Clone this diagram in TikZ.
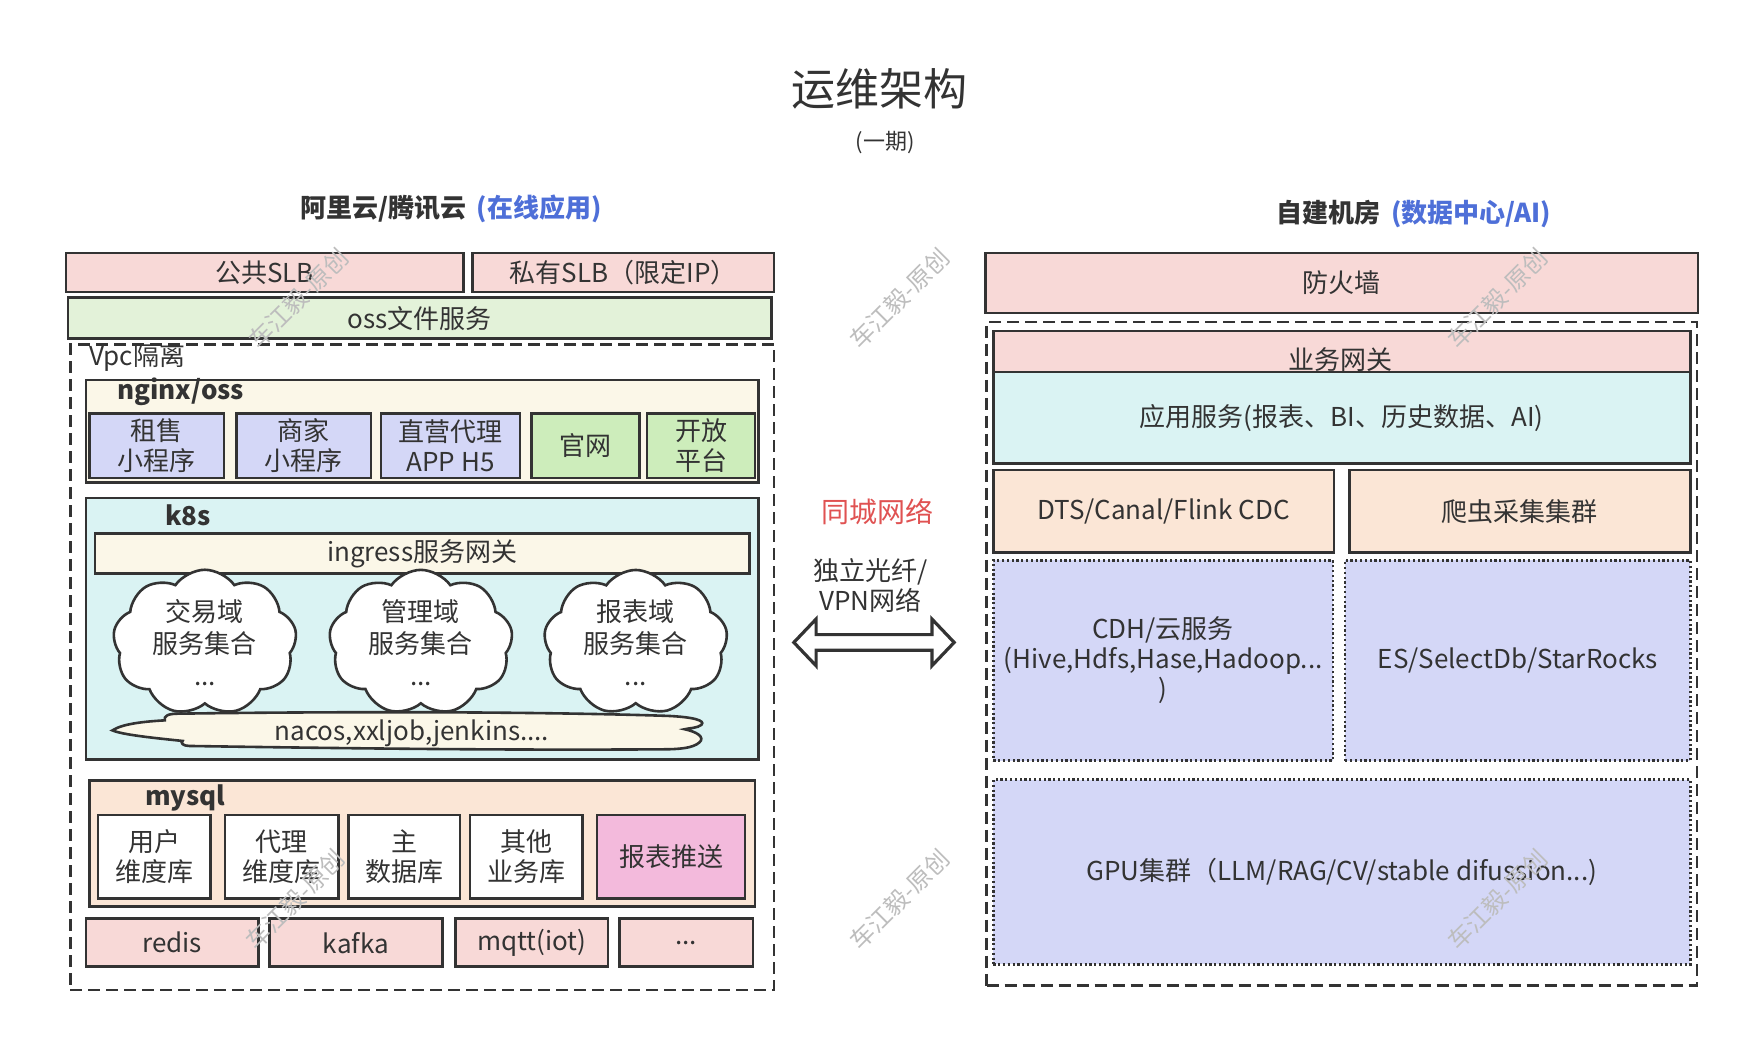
\documentclass[tikz,border=0pt]{standalone}
\usepackage{fontspec}
\setmainfont{Noto Sans CJK SC}
\usetikzlibrary{shapes.symbols}
\definecolor{ln}{HTML}{333333}
\definecolor{txt}{HTML}{333333}
\definecolor{cpink}{HTML}{F8D9D7}
\definecolor{cgreen}{HTML}{E3F2D9}
\definecolor{clav}{HTML}{D4D7F7}
\definecolor{cgreen2}{HTML}{CDEDBB}
\definecolor{ccream}{HTML}{FBF7E8}
\definecolor{ccyan}{HTML}{DAF3F3}
\definecolor{cpeach}{HTML}{FBE6D6}
\definecolor{cmag}{HTML}{F3BADC}
\definecolor{cblue}{HTML}{4E6FD8}
\definecolor{cred}{HTML}{E05252}
\definecolor{wm}{HTML}{BDBDBD}
\tikzset{
  box/.style={draw=ln, line width=1.3pt, align=center, inner sep=0pt, anchor=north west,
    font=\fontsize{13}{15}\selectfont, text=txt},
  sz/.style 2 args={minimum width=#1*0.5567pt, minimum height=#2*0.5567pt},
  dashbox/.style={draw=ln, line width=1.4pt, dash pattern=on 6pt off 3pt, anchor=north west, inner sep=0pt},
  dotbox/.style={box, dash pattern=on 1.1pt off 1.3pt},
  lbl/.style={font=\fontsize{13}{15}\selectfont\bfseries, text=txt, anchor=west, inner sep=0pt},
  cloudnode/.style={cloud, draw=ln, line width=1.3pt, fill=white, cloud puffs=9, cloud puff arc=110,
    aspect=1.4, inner sep=0pt, align=center, text=txt, font=\fontsize{13}{16}\selectfont},
  wmark/.style={text=wm, rotate=45, font=\fontsize{12}{14}\selectfont, inner sep=0pt},
  plain/.style={text=txt, inner sep=0pt, align=center},
}
\begin{document}
\begin{tikzpicture}[x=0.5567pt, y=-0.5567pt]
\useasboundingbox[fill=white] (0,0) rectangle (1569.1,934.1);

% titles
\node[plain, font=\fontsize{22}{26}\selectfont] (title) at (790,80) {运维架构};
\node[plain, font=\fontsize{11}{13}\selectfont] (sub) at (795,128) {(一期)};
\node[plain, font=\fontsize{13}{15}\selectfont\bfseries] (hl) at (405,188) {阿里云/腾讯云\hspace{0.4em}\textcolor{cblue}{(在线应用)}};
\node[plain, font=\fontsize{13}{15}\selectfont\bfseries] (hr) at (1270,192) {自建机房\hspace{0.4em}\textcolor{cblue}{(数据中心/AI)}};

% ---------- left ----------
\node[box, fill=cpink, sz={357}{35}] (slb1) at (58,226) {公共SLB};
\node[box, fill=cpink, sz={271}{35}] (slb2) at (423,226) {私有SLB（限定IP）};
\node[box, fill=cgreen, sz={632}{37}] (oss) at (60,266) {oss文件服务};
\node[dashbox, sz={632}{580}] (vpc) at (62,308) {};
\node[plain, anchor=west, font=\fontsize{13}{15}\selectfont] (vpcl) at (80,321) {Vpc隔离};

\node[box, fill=ccream, sz={604}{92}] (nginx) at (76,340) {};
\node[lbl] (nginxl) at (105,352) {nginx/oss};
\node[box, fill=clav, sz={121}{58}] (a1) at (79,370) {租售\\小程序};
\node[box, fill=clav, sz={121}{58}] (a2) at (211,370) {商家\\小程序};
\node[box, fill=clav, sz={125}{58}] (a3) at (341,370) {直营代理\\APP H5};
\node[box, fill=cgreen2, sz={97}{58}] (a4) at (476,370) {官网};
\node[box, fill=cgreen2, sz={97}{58}] (a5) at (580,370) {开放\\平台};

\node[box, fill=ccyan, sz={604}{235}] (k8s) at (76,446) {};
\node[lbl] (k8sl) at (148,463) {k8s};
\node[box, fill=ccream, sz={588}{36}] (ingress) at (84,478) {ingress服务网关};
\node[cloudnode, minimum width=165*0.5567pt, minimum height=118*0.5567pt] (c1) at (184,577) {交易域\\服务集合\\...};
\node[cloudnode, minimum width=165*0.5567pt, minimum height=118*0.5567pt] (c2) at (378,577) {管理域\\服务集合\\...};
\node[cloudnode, minimum width=165*0.5567pt, minimum height=118*0.5567pt] (c3) at (571,577) {报表域\\服务集合\\...};
% flat cloud
\draw[draw=ln, line width=1.3pt, fill=ccream]
  (101,656) .. controls (110,650) and (130,648) .. (148,647)
  .. controls (147,643) and (151,641) .. (160,641)
  .. controls (300,639) and (480,639) .. (600,643)
  .. controls (622,644) and (634,647) .. (630,651)
  .. controls (627,654) and (618,654) .. (615,655)
  .. controls (625,657) and (634,662) .. (628,667)
  .. controls (622,672) and (610,673) .. (595,673)
  .. controls (450,674) and (300,672) .. (170,670)
  .. controls (164,670) and (162,667) .. (164,665.5)
  .. controls (140,663) and (110,660) .. (101,656) -- cycle;
\node[plain, font=\fontsize{13}{15}\selectfont] (nacos) at (370,659) {nacos,xxljob,jenkins....};

\node[box, fill=cpeach, sz={598}{113}] (mysql) at (79,700) {};
\node[lbl] (mysqll) at (130,717) {mysql};
\node[box, fill=white, sz={101}{75}] (d1) at (87,731) {用户\\维度库};
\node[box, fill=white, sz={102}{75}] (d2) at (201,731) {代理\\维度库};
\node[box, fill=white, sz={100}{75}] (d3) at (312,731) {主\\数据库};
\node[box, fill=white, sz={101}{75}] (d4) at (421,731) {其他\\业务库};
\node[box, fill=cmag, sz={133}{75}] (d5) at (535,731) {报表推送};

\node[box, fill=cpink, sz={155}{43}] (redis) at (76,824) {redis};
\node[box, fill=cpink, sz={155}{43}] (kafka) at (241,824) {kafka};
\node[box, fill=cpink, sz={137}{43}] (mqtt) at (408,824) {mqtt(iot)};
\node[box, fill=cpink, sz={120}{43}] (etc) at (555,824) {...};

% ---------- middle ----------
\node[plain, text=cred, font=\fontsize{14}{16}\selectfont] (city) at (788,460) {同城网络};
\node[plain, font=\fontsize{13}{15}\selectfont] (fiber) at (782,526) {独立光纤/\\VPN网络};
\draw[draw=ln, line width=1.6pt, fill=white, line join=miter]
  (713,577) -- (733,556) -- (733,570) -- (837,570) -- (837,556) -- (857,577)
  -- (837,598) -- (837,584) -- (733,584) -- (733,598) -- cycle;

% ---------- right ----------
\node[box, fill=cpink, sz={640}{54}] (fw) at (884,226) {防火墙};
\node[dashbox, sz={638}{596}] (dc) at (885,288) {};
\node[box, fill=cpink, sz={626}{37}] (gw) at (891,296) {};
\node[plain, anchor=south, font=\fontsize{13}{15}\selectfont] (gwl) at (1204,334) {业务网关};
\node[box, fill=ccyan, sz={626}{82}] (app) at (891,333) {应用服务(报表、BI、历史数据、AI)};
\node[box, fill=cpeach, sz={306}{74}] (dts) at (891,421) {DTS/Canal/Flink CDC};
\node[box, fill=cpeach, sz={306}{74}] (crawl) at (1211,421) {爬虫采集集群};
\node[dotbox, fill=clav, sz={305}{180}] (cdh) at (891,502) {CDH/云服务\\(Hive,Hdfs,Hase,Hadoop...\\)};
\node[dotbox, fill=clav, sz={310}{180}] (es) at (1207,502) {ES/SelectDb/StarRocks};
\node[dotbox, fill=clav, sz={626}{166}] (gpu) at (891,699) {GPU集群（LLM/RAG/CV/stable difussion...)};

% ---------- watermarks ----------
\node[wmark] (w1) at (268,268) {车江毅-原创};
\node[wmark] (w2) at (808,268) {车江毅-原创};
\node[wmark] (w3) at (1345,268) {车江毅-原创};
\node[wmark] (w4) at (265,808) {车江毅-原创};
\node[wmark] (w5) at (808,808) {车江毅-原创};
\node[wmark] (w6) at (1345,808) {车江毅-原创};
\end{tikzpicture}
\end{document}
